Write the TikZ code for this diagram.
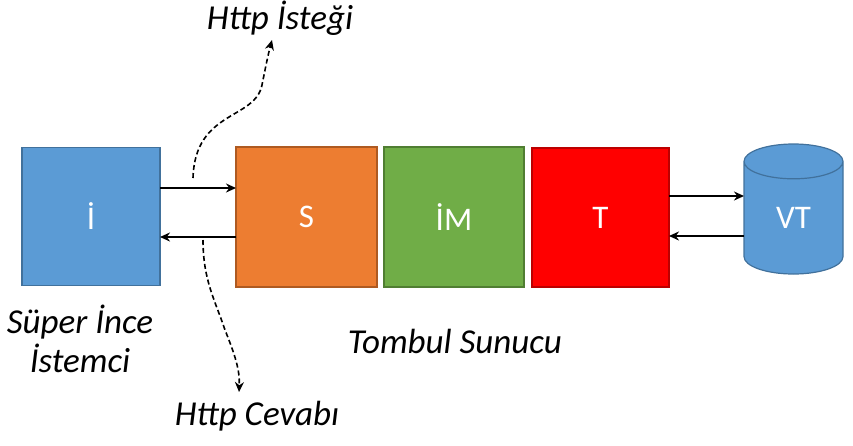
\documentclass[tikz,border=0pt]{standalone}
\usepackage{fontspec}
\setmainfont{Carlito}
\usetikzlibrary{arrows.meta,shapes.geometric}
\definecolor{cb}{HTML}{5B9BD5}\definecolor{cbd}{HTML}{41719C}
\definecolor{co}{HTML}{ED7D31}\definecolor{cod}{HTML}{AE5A21}
\definecolor{cg}{HTML}{70AD47}\definecolor{cgd}{HTML}{507E32}
\definecolor{cr}{HTML}{FF0000}\definecolor{crd}{HTML}{BC0000}
\begin{document}
\begin{tikzpicture}[x=1pt,y=-1pt,
  blk/.style={minimum width=138pt,minimum height=138pt,inner sep=0pt,text=white,font=\fontsize{33}{38}\selectfont,line width=1.2pt},
  lbl/.style={font=\itshape\fontsize{35}{40}\selectfont,inner sep=0pt},
  arr/.style={-{Stealth[length=10pt,width=9pt]},line width=1.8pt},
  darr/.style={-{Stealth[length=10pt,width=9pt]},line width=1.6pt,dashed,dash pattern=on 5pt off 3pt}]
\useasboundingbox (0,0) rectangle (853,445);
\node[blk,fill=cb,draw=cbd] (i) at (91,216.5) {İ};
\node[blk,fill=co,draw=cod,minimum width=141pt,minimum height=140pt] (s) at (306.5,217) {S};
\node[blk,fill=cg,draw=cgd,minimum width=140pt,minimum height=140pt] (im) at (454,217) {İM};
\node[blk,fill=cr,draw=crd,minimum width=137pt,minimum height=139pt] (t) at (600.5,217.5) {T};
\node[cylinder,shape border rotate=90,aspect=1.0,fill=cb,draw=cbd,line width=1.2pt,minimum width=99pt,minimum height=130pt,inner sep=0pt,text=white,font=\fontsize{33}{38}\selectfont] (vt) at (793.5,218) {\raisebox{-20pt}{VT}};
\coordinate (a1) at (160,188); \coordinate (a2) at (236,188);
\coordinate (b1) at (236,237); \coordinate (b2) at (160,237);
\coordinate (c1) at (669,196); \coordinate (c2) at (744,196);
\coordinate (d1) at (744,236); \coordinate (d2) at (669,236);
\draw[arr] (a1) -- (a2);
\draw[arr] (b1) -- (b2);
\draw[arr] (c1) -- (c2);
\draw[arr] (d1) -- (d2);
\coordinate (u0) at (193,178); \coordinate (u1) at (272,40);
\coordinate (l0) at (203,240); \coordinate (l1) at (239,392);
\draw[darr] (u0) .. controls (195,110) and (255,120) .. (262,85) .. controls (266,65) and (268,55) .. (u1);
\draw[darr] (l0) .. controls (203,280) and (215,300) .. (225,330) .. controls (235,355) and (240,370) .. (l1);
\node[lbl] (hi) at (280,18) {Http İsteği};
\node[lbl] (si) at (80,322) {Süper İnce};
\node[lbl] (is) at (80,358) {İstemci};
\node[lbl] (ts) at (455,341) {Tombul Sunucu};
\node[lbl] (hc) at (257,416) {Http Cevabı};
\end{tikzpicture}
\end{document}
